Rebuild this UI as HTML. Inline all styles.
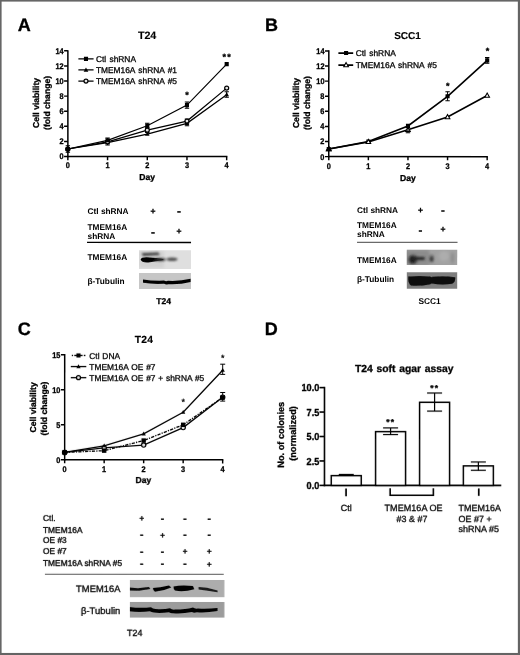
<!DOCTYPE html>
<html><head><meta charset="utf-8"><title>Figure</title>
<style>
html,body{margin:0;padding:0;background:#fff;}
body{width:520px;height:655px;overflow:hidden;}
svg{display:block;font-family:'Liberation Sans',sans-serif;fill:#000;text-rendering:geometricPrecision;}
</style></head><body>
<svg width="520" height="655" viewBox="0 0 520 655">
<defs>
<filter id="soft" x="0" y="0" width="520" height="655" filterUnits="userSpaceOnUse"><feGaussianBlur stdDeviation="0.38"/></filter>
<filter id="b1" x="-20%" y="-50%" width="140%" height="200%"><feGaussianBlur stdDeviation="0.7"/></filter>
<filter id="b2" x="-20%" y="-50%" width="140%" height="200%"><feGaussianBlur stdDeviation="1.1"/></filter>
<filter id="b3" x="-20%" y="-80%" width="140%" height="260%"><feGaussianBlur stdDeviation="1.6"/></filter>
<clipPath id="cA1"><rect x="139" y="250.3" width="52" height="18.7"/></clipPath>
<clipPath id="cB1"><rect x="406.8" y="249.7" width="50.4" height="15.3"/></clipPath>
<clipPath id="cB2"><rect x="406.8" y="272.2" width="50.4" height="16.4"/></clipPath>
<clipPath id="cC1"><rect x="130" y="580" width="94.5" height="17.2"/></clipPath>
<clipPath id="cC2"><rect x="130" y="602" width="94.5" height="15.6"/></clipPath>
</defs>
<rect x="0" y="0" width="520" height="655" fill="#fff"/>

<rect x="0" y="0" width="520" height="1.6" fill="#666"/>
<rect x="0" y="0" width="1.6" height="655" fill="#666"/>
<rect x="517.85" y="0" width="2.15" height="655" fill="#646464"/>
<rect x="0" y="652.95" width="520" height="2.05" fill="#646464"/>
<g filter="url(#soft)"><g transform="rotate(0.02 260 327)">
<text x="17.6" y="31.2" font-size="18" font-weight="bold" stroke="#000" stroke-width="0.3" text-anchor="start">A</text>
<text x="264.8" y="31" font-size="18" font-weight="bold" stroke="#000" stroke-width="0.3" text-anchor="start">B</text>
<text x="17.7" y="335.2" font-size="18" font-weight="bold" stroke="#000" stroke-width="0.3" text-anchor="start">C</text>
<text x="264.8" y="335" font-size="18" font-weight="bold" stroke="#000" stroke-width="0.3" text-anchor="start">D</text>
<g id="panelA">
<text x="147.0" y="39.5" font-size="10.7" font-weight="bold" stroke="#000" stroke-width="0.15" text-anchor="middle">T24</text>
<line x1="67.80" y1="50.20" x2="67.80" y2="157.30" stroke="#000" stroke-width="1.5"/>
<line x1="67.10" y1="156.60" x2="227.30" y2="156.60" stroke="#000" stroke-width="1.5"/>
<line x1="64.00" y1="156.60" x2="67.80" y2="156.60" stroke="#000" stroke-width="1.45"/>
<text transform="translate(63.5 159.54999999999998) scale(0.9 1)" font-size="8.2" font-weight="bold" stroke="#000" stroke-width="0.3" text-anchor="end">0</text>
<line x1="64.00" y1="141.50" x2="67.80" y2="141.50" stroke="#000" stroke-width="1.45"/>
<text transform="translate(63.5 144.45) scale(0.9 1)" font-size="8.2" font-weight="bold" stroke="#000" stroke-width="0.3" text-anchor="end">2</text>
<line x1="64.00" y1="126.40" x2="67.80" y2="126.40" stroke="#000" stroke-width="1.45"/>
<text transform="translate(63.5 129.35) scale(0.9 1)" font-size="8.2" font-weight="bold" stroke="#000" stroke-width="0.3" text-anchor="end">4</text>
<line x1="64.00" y1="111.30" x2="67.80" y2="111.30" stroke="#000" stroke-width="1.45"/>
<text transform="translate(63.5 114.25) scale(0.9 1)" font-size="8.2" font-weight="bold" stroke="#000" stroke-width="0.3" text-anchor="end">6</text>
<line x1="64.00" y1="96.20" x2="67.80" y2="96.20" stroke="#000" stroke-width="1.45"/>
<text transform="translate(63.5 99.14999999999999) scale(0.9 1)" font-size="8.2" font-weight="bold" stroke="#000" stroke-width="0.3" text-anchor="end">8</text>
<line x1="64.00" y1="81.10" x2="67.80" y2="81.10" stroke="#000" stroke-width="1.45"/>
<text transform="translate(63.5 84.05) scale(0.9 1)" font-size="8.2" font-weight="bold" stroke="#000" stroke-width="0.3" text-anchor="end">10</text>
<line x1="64.00" y1="66.00" x2="67.80" y2="66.00" stroke="#000" stroke-width="1.45"/>
<text transform="translate(63.5 68.95) scale(0.9 1)" font-size="8.2" font-weight="bold" stroke="#000" stroke-width="0.3" text-anchor="end">12</text>
<line x1="64.00" y1="50.90" x2="67.80" y2="50.90" stroke="#000" stroke-width="1.45"/>
<text transform="translate(63.5 53.849999999999994) scale(0.9 1)" font-size="8.2" font-weight="bold" stroke="#000" stroke-width="0.3" text-anchor="end">14</text>
<line x1="67.80" y1="156.60" x2="67.80" y2="160.20" stroke="#000" stroke-width="1.45"/>
<text transform="translate(67.8 168.5) scale(0.9 1)" font-size="8.2" font-weight="bold" stroke="#000" stroke-width="0.3" text-anchor="middle">0</text>
<line x1="107.50" y1="156.60" x2="107.50" y2="160.20" stroke="#000" stroke-width="1.45"/>
<text transform="translate(107.5 168.5) scale(0.9 1)" font-size="8.2" font-weight="bold" stroke="#000" stroke-width="0.3" text-anchor="middle">1</text>
<line x1="147.20" y1="156.60" x2="147.20" y2="160.20" stroke="#000" stroke-width="1.45"/>
<text transform="translate(147.2 168.5) scale(0.9 1)" font-size="8.2" font-weight="bold" stroke="#000" stroke-width="0.3" text-anchor="middle">2</text>
<line x1="186.90" y1="156.60" x2="186.90" y2="160.20" stroke="#000" stroke-width="1.45"/>
<text transform="translate(186.9 168.5) scale(0.9 1)" font-size="8.2" font-weight="bold" stroke="#000" stroke-width="0.3" text-anchor="middle">3</text>
<line x1="226.60" y1="156.60" x2="226.60" y2="160.20" stroke="#000" stroke-width="1.45"/>
<text transform="translate(226.60000000000002 168.5) scale(0.9 1)" font-size="8.2" font-weight="bold" stroke="#000" stroke-width="0.3" text-anchor="middle">4</text>
<text x="38.6" y="103" font-size="8.6" font-weight="bold" stroke="#000" stroke-width="0.3" text-anchor="middle" transform="rotate(-90 38.6 103)">Cell viability</text>
<text x="50.3" y="103" font-size="8.6" font-weight="bold" stroke="#000" stroke-width="0.3" text-anchor="middle" transform="rotate(-90 50.3 103)">(fold change)</text>
<text x="147.2" y="180.5" font-size="8.6" font-weight="bold" stroke="#000" stroke-width="0.3" text-anchor="middle">Day</text>
<polyline points="67.80,149.05 107.50,142.63 147.20,134.18 186.90,123.38 226.60,94.69" fill="none" stroke="#000" stroke-width="1.2"/>
<polyline points="67.80,149.05 107.50,141.88 147.20,130.17 186.90,121.11 226.60,88.12" fill="none" stroke="#000" stroke-width="1.2"/>
<polyline points="67.80,149.05 107.50,140.37 147.20,125.80 186.90,105.11 226.60,64.11" fill="none" stroke="#000" stroke-width="1.2"/>
<line x1="67.80" y1="145.75" x2="67.80" y2="152.35" stroke="#000" stroke-width="1"/>
<line x1="65.60" y1="145.75" x2="70.00" y2="145.75" stroke="#000" stroke-width="1"/>
<line x1="65.60" y1="152.35" x2="70.00" y2="152.35" stroke="#000" stroke-width="1"/>
<line x1="186.90" y1="101.91" x2="186.90" y2="108.31" stroke="#000" stroke-width="1"/>
<line x1="184.70" y1="101.91" x2="189.10" y2="101.91" stroke="#000" stroke-width="1"/>
<line x1="184.70" y1="108.31" x2="189.10" y2="108.31" stroke="#000" stroke-width="1"/>
<line x1="226.60" y1="91.69" x2="226.60" y2="97.19" stroke="#000" stroke-width="1"/>
<line x1="224.40" y1="91.69" x2="228.80" y2="91.69" stroke="#000" stroke-width="1"/>
<line x1="224.40" y1="97.19" x2="228.80" y2="97.19" stroke="#000" stroke-width="1"/>
<line x1="147.20" y1="127.77" x2="147.20" y2="132.57" stroke="#000" stroke-width="1"/>
<line x1="145.00" y1="127.77" x2="149.40" y2="127.77" stroke="#000" stroke-width="1"/>
<line x1="145.00" y1="132.57" x2="149.40" y2="132.57" stroke="#000" stroke-width="1"/>
<line x1="147.20" y1="123.20" x2="147.20" y2="128.40" stroke="#000" stroke-width="1"/>
<line x1="145.00" y1="123.20" x2="149.40" y2="123.20" stroke="#000" stroke-width="1"/>
<line x1="145.00" y1="128.40" x2="149.40" y2="128.40" stroke="#000" stroke-width="1"/>
<line x1="107.50" y1="137.97" x2="107.50" y2="142.77" stroke="#000" stroke-width="1"/>
<line x1="105.30" y1="137.97" x2="109.70" y2="137.97" stroke="#000" stroke-width="1"/>
<line x1="105.30" y1="142.77" x2="109.70" y2="142.77" stroke="#000" stroke-width="1"/>
<line x1="107.50" y1="140.43" x2="107.50" y2="145.03" stroke="#000" stroke-width="1"/>
<line x1="105.30" y1="140.43" x2="109.70" y2="140.43" stroke="#000" stroke-width="1"/>
<line x1="105.30" y1="145.03" x2="109.70" y2="145.03" stroke="#000" stroke-width="1"/>
<line x1="186.90" y1="118.91" x2="186.90" y2="123.31" stroke="#000" stroke-width="1"/>
<line x1="184.70" y1="118.91" x2="189.10" y2="118.91" stroke="#000" stroke-width="1"/>
<line x1="184.70" y1="123.31" x2="189.10" y2="123.31" stroke="#000" stroke-width="1"/>
<line x1="186.90" y1="121.38" x2="186.90" y2="125.78" stroke="#000" stroke-width="1"/>
<line x1="184.70" y1="121.38" x2="189.10" y2="121.38" stroke="#000" stroke-width="1"/>
<line x1="184.70" y1="125.78" x2="189.10" y2="125.78" stroke="#000" stroke-width="1"/>
<polygon points="67.80,146.57 65.50,150.71 70.10,150.71" fill="#000"/>
<polygon points="107.50,140.15 105.20,144.29 109.80,144.29" fill="#000"/>
<polygon points="147.20,131.69 144.90,135.83 149.50,135.83" fill="#000"/>
<polygon points="186.90,120.90 184.60,125.04 189.20,125.04" fill="#000"/>
<polygon points="226.60,92.21 224.30,96.35 228.90,96.35" fill="#000"/>
<circle cx="67.80" cy="149.05" r="2.0" fill="#e2e2e2" stroke="#000" stroke-width="1.2"/>
<circle cx="107.50" cy="141.88" r="2.0" fill="#e2e2e2" stroke="#000" stroke-width="1.2"/>
<circle cx="147.20" cy="130.17" r="2.0" fill="#e2e2e2" stroke="#000" stroke-width="1.2"/>
<circle cx="186.90" cy="121.11" r="2.0" fill="#e2e2e2" stroke="#000" stroke-width="1.2"/>
<circle cx="226.60" cy="88.12" r="2.0" fill="#e2e2e2" stroke="#000" stroke-width="1.2"/>
<rect x="65.75" y="147.00" width="4.1" height="4.1" fill="#000"/>
<rect x="105.45" y="138.32" width="4.1" height="4.1" fill="#000"/>
<rect x="145.15" y="123.75" width="4.1" height="4.1" fill="#000"/>
<rect x="184.85" y="103.06" width="4.1" height="4.1" fill="#000"/>
<rect x="224.55" y="62.06" width="4.1" height="4.1" fill="#000"/>
<circle cx="67.80" cy="149.05" r="2.0" fill="#000" stroke="#000" stroke-width="1.2"/>
<line x1="78.30" y1="58.90" x2="93.50" y2="58.90" stroke="#000" stroke-width="1.2"/>
<rect x="83.85" y="56.85" width="4.1" height="4.1" fill="#000"/>
<text x="95.8" y="61.9" font-size="8.4" stroke="#000" stroke-width="0.28" text-anchor="start" word-spacing="1">Ctl shRNA</text>
<line x1="78.30" y1="70.00" x2="93.50" y2="70.00" stroke="#000" stroke-width="1.2"/>
<polygon points="85.90,67.46 83.55,71.69 88.25,71.69" fill="#000"/>
<text x="95.8" y="73.0" font-size="8.4" stroke="#000" stroke-width="0.28" text-anchor="start" word-spacing="1">TMEM16A shRNA #1</text>
<line x1="78.30" y1="81.10" x2="93.50" y2="81.10" stroke="#000" stroke-width="1.2"/>
<circle cx="85.90" cy="81.10" r="2.0" fill="#e2e2e2" stroke="#000" stroke-width="1.2"/>
<text x="95.8" y="84.1" font-size="8.4" stroke="#000" stroke-width="0.28" text-anchor="start" word-spacing="1">TMEM16A shRNA #5</text>
<text x="186.9" y="97.6" font-size="9" font-weight="bold" stroke="#000" stroke-width="0.3" text-anchor="middle">*</text>
<text x="227.2" y="59.8" font-size="9" font-weight="bold" stroke="#000" stroke-width="0.3" text-anchor="middle" letter-spacing="1.2">**</text>
<text x="87.5" y="214.4" font-size="8.3" font-weight="bold" text-anchor="start">Ctl shRNA</text>
<text x="87.5" y="229.8" font-size="8.3" font-weight="bold" text-anchor="start">TMEM16A</text>
<text x="87.5" y="238.6" font-size="8.3" font-weight="bold" text-anchor="start">shRNA</text>
<text x="153" y="213.8" font-size="8.5" font-weight="bold" stroke="#000" stroke-width="0.3" text-anchor="middle">+</text>
<text x="179" y="215.1" font-size="12" font-weight="bold" stroke="#000" stroke-width="0.3" text-anchor="middle">-</text>
<text x="153" y="235.9" font-size="12" font-weight="bold" stroke="#000" stroke-width="0.3" text-anchor="middle">-</text>
<text x="179" y="234.2" font-size="8.5" font-weight="bold" stroke="#000" stroke-width="0.3" text-anchor="middle">+</text>
<line x1="87.00" y1="242.50" x2="191.00" y2="242.50" stroke="#000" stroke-width="1.3"/>
<text x="87.5" y="260.5" font-size="8.3" font-weight="bold" text-anchor="start">TMEM16A</text>
<text x="87.5" y="284.4" font-size="8.3" font-weight="bold" text-anchor="start">β-Tubulin</text>
<rect x="139" y="250.3" width="52" height="18.7" fill="#dfdfdf"/>
<g clip-path="url(#cA1)"><rect x="139" y="251" width="25" height="17" fill="#d2d2d2" filter="url(#b3)"/></g>
<g filter="url(#b1)">
<path d="M140.6,259.6 Q141.4,257 147,257.2 L156,258 L163,258.9 L163.6,260.1 L156,261.2 L150,262.3 Q141.6,263.2 140.6,259.6 Z" fill="#000"/>
</g>
<g filter="url(#b2)">
<path d="M141.6,253.2 L158,252.6 L160,255 L143,256 Z" fill="#3a3a3a"/>
<ellipse cx="172" cy="259.2" rx="5.5" ry="1.8" fill="#505050"/>
<ellipse cx="160" cy="259.6" rx="6" ry="1.6" fill="#333"/>
</g>
<rect x="139" y="273" width="52" height="16" fill="#c6c6c6"/>
<g filter="url(#b1)">
<path d="M143,279.4 Q152,281 164,280.6 Q166,281.8 168,280.8 Q180,281.4 190.6,278.8 L190.6,282 Q180,284.8 168,284.2 Q166,284.8 164,283.8 Q152,284.4 143,282.8 Z" fill="#000"/>
</g>
<text x="163.6" y="303.8" font-size="8.5" font-weight="bold" stroke="#000" stroke-width="0.3" text-anchor="middle">T24</text>
</g>
<g id="panelB">
<text x="407.4" y="38.7" font-size="10" font-weight="bold" stroke="#000" stroke-width="0.15" text-anchor="middle">SCC1</text>
<line x1="328.70" y1="50.20" x2="328.70" y2="157.30" stroke="#000" stroke-width="1.5"/>
<line x1="328.00" y1="156.60" x2="487.80" y2="156.60" stroke="#000" stroke-width="1.5"/>
<line x1="324.90" y1="156.60" x2="328.70" y2="156.60" stroke="#000" stroke-width="1.45"/>
<text transform="translate(324.4 159.54999999999998) scale(0.9 1)" font-size="8.2" font-weight="bold" stroke="#000" stroke-width="0.3" text-anchor="end">0</text>
<line x1="324.90" y1="141.50" x2="328.70" y2="141.50" stroke="#000" stroke-width="1.45"/>
<text transform="translate(324.4 144.45) scale(0.9 1)" font-size="8.2" font-weight="bold" stroke="#000" stroke-width="0.3" text-anchor="end">2</text>
<line x1="324.90" y1="126.40" x2="328.70" y2="126.40" stroke="#000" stroke-width="1.45"/>
<text transform="translate(324.4 129.35) scale(0.9 1)" font-size="8.2" font-weight="bold" stroke="#000" stroke-width="0.3" text-anchor="end">4</text>
<line x1="324.90" y1="111.30" x2="328.70" y2="111.30" stroke="#000" stroke-width="1.45"/>
<text transform="translate(324.4 114.25) scale(0.9 1)" font-size="8.2" font-weight="bold" stroke="#000" stroke-width="0.3" text-anchor="end">6</text>
<line x1="324.90" y1="96.20" x2="328.70" y2="96.20" stroke="#000" stroke-width="1.45"/>
<text transform="translate(324.4 99.14999999999999) scale(0.9 1)" font-size="8.2" font-weight="bold" stroke="#000" stroke-width="0.3" text-anchor="end">8</text>
<line x1="324.90" y1="81.10" x2="328.70" y2="81.10" stroke="#000" stroke-width="1.45"/>
<text transform="translate(324.4 84.05) scale(0.9 1)" font-size="8.2" font-weight="bold" stroke="#000" stroke-width="0.3" text-anchor="end">10</text>
<line x1="324.90" y1="66.00" x2="328.70" y2="66.00" stroke="#000" stroke-width="1.45"/>
<text transform="translate(324.4 68.95) scale(0.9 1)" font-size="8.2" font-weight="bold" stroke="#000" stroke-width="0.3" text-anchor="end">12</text>
<line x1="324.90" y1="50.90" x2="328.70" y2="50.90" stroke="#000" stroke-width="1.45"/>
<text transform="translate(324.4 53.849999999999994) scale(0.9 1)" font-size="8.2" font-weight="bold" stroke="#000" stroke-width="0.3" text-anchor="end">14</text>
<line x1="328.70" y1="156.60" x2="328.70" y2="160.20" stroke="#000" stroke-width="1.45"/>
<text transform="translate(328.7 168.5) scale(0.9 1)" font-size="8.2" font-weight="bold" stroke="#000" stroke-width="0.3" text-anchor="middle">0</text>
<line x1="368.30" y1="156.60" x2="368.30" y2="160.20" stroke="#000" stroke-width="1.45"/>
<text transform="translate(368.3 168.5) scale(0.9 1)" font-size="8.2" font-weight="bold" stroke="#000" stroke-width="0.3" text-anchor="middle">1</text>
<line x1="407.90" y1="156.60" x2="407.90" y2="160.20" stroke="#000" stroke-width="1.45"/>
<text transform="translate(407.9 168.5) scale(0.9 1)" font-size="8.2" font-weight="bold" stroke="#000" stroke-width="0.3" text-anchor="middle">2</text>
<line x1="447.50" y1="156.60" x2="447.50" y2="160.20" stroke="#000" stroke-width="1.45"/>
<text transform="translate(447.5 168.5) scale(0.9 1)" font-size="8.2" font-weight="bold" stroke="#000" stroke-width="0.3" text-anchor="middle">3</text>
<line x1="487.10" y1="156.60" x2="487.10" y2="160.20" stroke="#000" stroke-width="1.45"/>
<text transform="translate(487.1 168.5) scale(0.9 1)" font-size="8.2" font-weight="bold" stroke="#000" stroke-width="0.3" text-anchor="middle">4</text>
<text x="298.6" y="103" font-size="8.6" font-weight="bold" stroke="#000" stroke-width="0.3" text-anchor="middle" transform="rotate(-90 298.6 103)">Cell viability</text>
<text x="310.3" y="103" font-size="8.6" font-weight="bold" stroke="#000" stroke-width="0.3" text-anchor="middle" transform="rotate(-90 310.3 103)">(fold change)</text>
<text x="407.9" y="180.5" font-size="8.6" font-weight="bold" stroke="#000" stroke-width="0.3" text-anchor="middle">Day</text>
<polyline points="328.70,149.05 368.30,141.88 407.90,129.65 447.50,116.96 487.10,95.44" fill="none" stroke="#000" stroke-width="1.6"/>
<polyline points="328.70,149.05 368.30,141.50 407.90,125.87 447.50,96.20 487.10,60.34" fill="none" stroke="#000" stroke-width="1.6"/>
<line x1="447.50" y1="91.70" x2="447.50" y2="100.70" stroke="#000" stroke-width="1"/>
<line x1="445.30" y1="91.70" x2="449.70" y2="91.70" stroke="#000" stroke-width="1"/>
<line x1="445.30" y1="100.70" x2="449.70" y2="100.70" stroke="#000" stroke-width="1"/>
<line x1="487.10" y1="57.54" x2="487.10" y2="63.14" stroke="#000" stroke-width="1"/>
<line x1="484.90" y1="57.54" x2="489.30" y2="57.54" stroke="#000" stroke-width="1"/>
<line x1="484.90" y1="63.14" x2="489.30" y2="63.14" stroke="#000" stroke-width="1"/>
<rect x="326.65" y="147.00" width="4.1" height="4.1" fill="#000"/>
<rect x="366.25" y="139.45" width="4.1" height="4.1" fill="#000"/>
<rect x="405.85" y="123.82" width="4.1" height="4.1" fill="#000"/>
<rect x="445.45" y="94.15" width="4.1" height="4.1" fill="#000"/>
<rect x="485.05" y="58.29" width="4.1" height="4.1" fill="#000"/>
<polygon points="328.70,146.57 326.40,150.71 331.00,150.71" fill="#fff" stroke="#000" stroke-width="1.1"/>
<polygon points="368.30,139.39 366.00,143.53 370.60,143.53" fill="#fff" stroke="#000" stroke-width="1.1"/>
<polygon points="407.90,127.16 405.60,131.30 410.20,131.30" fill="#fff" stroke="#000" stroke-width="1.1"/>
<polygon points="447.50,114.48 445.20,118.62 449.80,118.62" fill="#fff" stroke="#000" stroke-width="1.1"/>
<polygon points="487.10,92.96 484.80,97.10 489.40,97.10" fill="#fff" stroke="#000" stroke-width="1.1"/>
<line x1="407.90" y1="127.65" x2="407.90" y2="132.65" stroke="#000" stroke-width="1"/>
<line x1="405.70" y1="127.65" x2="410.10" y2="127.65" stroke="#000" stroke-width="1"/>
<line x1="405.70" y1="132.65" x2="410.10" y2="132.65" stroke="#000" stroke-width="1"/>
<polygon points="328.70,146.46 326.30,150.78 331.10,150.78" fill="#000" stroke="#000" stroke-width="1"/>
<line x1="338.30" y1="53.00" x2="353.10" y2="53.00" stroke="#000" stroke-width="1.8"/>
<rect x="343.95" y="50.95" width="4.1" height="4.1" fill="#000"/>
<text x="355.6" y="56.0" font-size="8.4" stroke="#000" stroke-width="0.28" text-anchor="start" word-spacing="1">Ctl shRNA</text>
<line x1="338.30" y1="65.00" x2="353.10" y2="65.00" stroke="#000" stroke-width="1.8"/>
<polygon points="346.00,62.52 343.70,66.66 348.30,66.66" fill="#fff" stroke="#000" stroke-width="1.1"/>
<text x="355.6" y="68.0" font-size="8.4" stroke="#000" stroke-width="0.28" text-anchor="start" word-spacing="1">TMEM16A shRNA #5</text>
<text x="447.7" y="89" font-size="9" font-weight="bold" stroke="#000" stroke-width="0.3" text-anchor="middle">*</text>
<text x="487.3" y="54" font-size="9" font-weight="bold" stroke="#000" stroke-width="0.3" text-anchor="middle">*</text>
<text x="357" y="212.8" font-size="8.3" font-weight="bold" text-anchor="start">Ctl shRNA</text>
<text x="357" y="227.7" font-size="8.3" font-weight="bold" text-anchor="start">TMEM16A</text>
<text x="357" y="236.8" font-size="8.3" font-weight="bold" text-anchor="start">shRNA</text>
<text x="420.4" y="212.6" font-size="8.5" font-weight="bold" stroke="#000" stroke-width="0.3" text-anchor="middle">+</text>
<text x="443" y="214.1" font-size="11.5" font-weight="bold" stroke="#000" stroke-width="0.3" text-anchor="middle">-</text>
<text x="420.4" y="233.7" font-size="11.5" font-weight="bold" stroke="#000" stroke-width="0.3" text-anchor="middle">-</text>
<text x="443" y="232.3" font-size="8.5" font-weight="bold" stroke="#000" stroke-width="0.3" text-anchor="middle">+</text>
<line x1="357.00" y1="242.40" x2="457.50" y2="242.40" stroke="#6a6a6a" stroke-width="1.3"/>
<text x="357" y="262.8" font-size="8.3" font-weight="bold" text-anchor="start">TMEM16A</text>
<text x="357" y="281.8" font-size="8.3" font-weight="bold" text-anchor="start">β-Tubulin</text>
<rect x="406.8" y="249.7" width="50.4" height="15.3" fill="#a2a2a2"/>
<g clip-path="url(#cB1)">
<g filter="url(#b3)">
<rect x="405" y="250" width="24" height="15" fill="#8c8c8c"/>
<ellipse cx="413" cy="259.6" rx="5" ry="5" fill="#555"/>
<ellipse cx="431.5" cy="258.6" rx="2.2" ry="4" fill="#6a6a6a"/>
<ellipse cx="452.5" cy="258" rx="1.6" ry="6" fill="#8a8a8a"/>
<ellipse cx="444" cy="256" rx="5" ry="5" fill="#adadad"/>
</g>
<g filter="url(#b2)">
<ellipse cx="412.6" cy="259.4" rx="3" ry="3.4" fill="#1a1a1a"/>
<rect x="412" y="257" width="12.6" height="2.8" fill="#222"/>
<ellipse cx="431.6" cy="259" rx="1.5" ry="2.4" fill="#3a3a3a"/>
</g>
</g>
<rect x="406.8" y="272.2" width="50.4" height="16.4" fill="#7e7e7e"/>
<g clip-path="url(#cB2)"><g filter="url(#b1)">
<path d="M408.2,276.6 Q420,275.6 430.4,276.6 Q431.2,277.8 432,276.8 Q444,275.6 455.2,277.2 Q455.8,282 452,283.8 Q442,285.4 432,283.6 Q431.2,283 430.4,284.2 Q420,286.4 411,285.6 Q407.8,283.6 408.2,276.6 Z" fill="#0c0c0c"/>
</g></g>
<text x="429.6" y="304.2" font-size="8.4" font-weight="bold" text-anchor="middle">SCC1</text>
</g>
<g id="panelC">
<text x="143.9" y="343.2" font-size="10.3" font-weight="bold" stroke="#000" stroke-width="0.15" text-anchor="middle" letter-spacing="0.25">T24</text>
<line x1="64.70" y1="354.10" x2="64.70" y2="460.50" stroke="#000" stroke-width="1.45"/>
<line x1="64.00" y1="459.80" x2="223.40" y2="459.80" stroke="#000" stroke-width="1.45"/>
<line x1="60.90" y1="459.80" x2="64.70" y2="459.80" stroke="#000" stroke-width="1.4"/>
<text transform="translate(60.400000000000006 462.75) scale(0.9 1)" font-size="8.2" font-weight="bold" stroke="#000" stroke-width="0.3" text-anchor="end">0</text>
<line x1="60.90" y1="424.80" x2="64.70" y2="424.80" stroke="#000" stroke-width="1.4"/>
<text transform="translate(60.400000000000006 427.75) scale(0.9 1)" font-size="8.2" font-weight="bold" stroke="#000" stroke-width="0.3" text-anchor="end">5</text>
<line x1="60.90" y1="389.80" x2="64.70" y2="389.80" stroke="#000" stroke-width="1.4"/>
<text transform="translate(60.400000000000006 392.75) scale(0.9 1)" font-size="8.2" font-weight="bold" stroke="#000" stroke-width="0.3" text-anchor="end">10</text>
<line x1="60.90" y1="354.80" x2="64.70" y2="354.80" stroke="#000" stroke-width="1.4"/>
<text transform="translate(60.400000000000006 357.75) scale(0.9 1)" font-size="8.2" font-weight="bold" stroke="#000" stroke-width="0.3" text-anchor="end">15</text>
<line x1="64.70" y1="459.80" x2="64.70" y2="463.40" stroke="#000" stroke-width="1.4"/>
<text transform="translate(64.7 471.7) scale(0.9 1)" font-size="8.2" font-weight="bold" stroke="#000" stroke-width="0.3" text-anchor="middle">0</text>
<line x1="104.20" y1="459.80" x2="104.20" y2="463.40" stroke="#000" stroke-width="1.4"/>
<text transform="translate(104.2 471.7) scale(0.9 1)" font-size="8.2" font-weight="bold" stroke="#000" stroke-width="0.3" text-anchor="middle">1</text>
<line x1="143.70" y1="459.80" x2="143.70" y2="463.40" stroke="#000" stroke-width="1.4"/>
<text transform="translate(143.7 471.7) scale(0.9 1)" font-size="8.2" font-weight="bold" stroke="#000" stroke-width="0.3" text-anchor="middle">2</text>
<line x1="183.20" y1="459.80" x2="183.20" y2="463.40" stroke="#000" stroke-width="1.4"/>
<text transform="translate(183.2 471.7) scale(0.9 1)" font-size="8.2" font-weight="bold" stroke="#000" stroke-width="0.3" text-anchor="middle">3</text>
<line x1="222.70" y1="459.80" x2="222.70" y2="463.40" stroke="#000" stroke-width="1.4"/>
<text transform="translate(222.7 471.7) scale(0.9 1)" font-size="8.2" font-weight="bold" stroke="#000" stroke-width="0.3" text-anchor="middle">4</text>
<text x="36.2" y="407.4" font-size="8.6" font-weight="bold" stroke="#000" stroke-width="0.3" text-anchor="middle" transform="rotate(-90 36.2 407.4)">Cell viability</text>
<text x="47.0" y="408.6" font-size="8.6" font-weight="bold" stroke="#000" stroke-width="0.3" text-anchor="middle" transform="rotate(-90 47.0 408.6)">(fold change)</text>
<text x="143.5" y="483" font-size="8.6" font-weight="bold" stroke="#000" stroke-width="0.3" text-anchor="middle">Day</text>
<polyline points="64.70,452.45 104.20,447.90 143.70,445.10 183.20,427.60 222.70,397.15" fill="none" stroke="#000" stroke-width="1.3"/>
<polyline points="64.70,452.45 104.20,445.80 143.70,433.90 183.20,412.20 222.70,370.20" fill="none" stroke="#000" stroke-width="1.3"/>
<polyline points="64.70,452.45 104.20,450.70 143.70,440.55 183.20,424.80 222.70,397.50" fill="none" stroke="#000" stroke-width="1.35" stroke-dasharray="3.2,1.2,1.2,1.2"/>
<line x1="222.70" y1="364.20" x2="222.70" y2="374.40" stroke="#000" stroke-width="1"/>
<line x1="220.20" y1="364.20" x2="225.20" y2="364.20" stroke="#000" stroke-width="1"/>
<line x1="220.20" y1="374.40" x2="225.20" y2="374.40" stroke="#000" stroke-width="1"/>
<line x1="222.70" y1="392.50" x2="222.70" y2="401.10" stroke="#000" stroke-width="1"/>
<line x1="220.20" y1="392.50" x2="225.20" y2="392.50" stroke="#000" stroke-width="1"/>
<line x1="220.20" y1="401.10" x2="225.20" y2="401.10" stroke="#000" stroke-width="1"/>
<circle cx="64.70" cy="452.45" r="2.15" fill="#e2e2e2" stroke="#000" stroke-width="1.2"/>
<circle cx="104.20" cy="447.90" r="2.15" fill="#e2e2e2" stroke="#000" stroke-width="1.2"/>
<circle cx="143.70" cy="445.10" r="2.15" fill="#e2e2e2" stroke="#000" stroke-width="1.2"/>
<circle cx="183.20" cy="427.60" r="2.15" fill="#e2e2e2" stroke="#000" stroke-width="1.2"/>
<circle cx="222.70" cy="397.15" r="2.15" fill="#e2e2e2" stroke="#000" stroke-width="1.2"/>
<polygon points="64.70,450.13 62.55,454.00 66.85,454.00" fill="#000"/>
<polygon points="104.20,443.48 102.05,447.35 106.35,447.35" fill="#000"/>
<polygon points="143.70,431.58 141.55,435.45 145.85,435.45" fill="#000"/>
<polygon points="183.20,409.88 181.05,413.75 185.35,413.75" fill="#000"/>
<polygon points="222.70,367.88 220.55,371.75 224.85,371.75" fill="#000"/>
<rect x="62.50" y="450.25" width="4.4" height="4.4" fill="#000"/>
<rect x="102.00" y="448.50" width="4.4" height="4.4" fill="#000"/>
<rect x="141.50" y="438.35" width="4.4" height="4.4" fill="#000"/>
<rect x="181.00" y="422.60" width="4.4" height="4.4" fill="#000"/>
<rect x="220.50" y="395.30" width="4.4" height="4.4" fill="#000"/>
<circle cx="64.70" cy="452.45" r="2.2" fill="#000" stroke="#000" stroke-width="1.2"/>
<line x1="71.80" y1="355.50" x2="73.10" y2="355.50" stroke="#000" stroke-width="1.35"/>
<line x1="74.30" y1="355.50" x2="82.60" y2="355.50" stroke="#000" stroke-width="1.35"/>
<line x1="83.80" y1="355.50" x2="85.40" y2="355.50" stroke="#000" stroke-width="1.35"/>
<rect x="76.45" y="353.45" width="4.1" height="4.1" fill="#000"/>
<text x="89.3" y="358.5" font-size="8.4" stroke="#000" stroke-width="0.28" text-anchor="start" word-spacing="0.5">Ctl DNA</text>
<line x1="70.80" y1="366.60" x2="86.30" y2="366.60" stroke="#000" stroke-width="1.3"/>
<polygon points="78.50,364.28 76.35,368.15 80.65,368.15" fill="#000"/>
<text x="89.3" y="369.6" font-size="8.4" stroke="#000" stroke-width="0.28" text-anchor="start" word-spacing="0.5">TMEM16A OE #7</text>
<line x1="70.80" y1="377.70" x2="86.30" y2="377.70" stroke="#000" stroke-width="1.3"/>
<circle cx="78.50" cy="377.70" r="2.0" fill="#e2e2e2" stroke="#000" stroke-width="1.2"/>
<text x="89.3" y="380.7" font-size="8.4" stroke="#000" stroke-width="0.28" text-anchor="start" word-spacing="0.5">TMEM16A OE #7 + shRNA #5</text>
<text x="183.3" y="405" font-size="9" stroke="#000" stroke-width="0.28" text-anchor="middle">*</text>
<text x="222.8" y="361" font-size="9" stroke="#000" stroke-width="0.28" text-anchor="middle">*</text>
<text x="43" y="521.1" font-size="8.4" stroke="#000" stroke-width="0.32">Ctl.</text>
<text x="43" y="533.3" font-size="8.4" stroke="#000" stroke-width="0.32">TMEM16A</text>
<text x="43" y="543" font-size="8.4" stroke="#000" stroke-width="0.32">OE #3</text>
<text x="43" y="554.2" font-size="8.4" stroke="#000" stroke-width="0.32">OE #7</text>
<text x="43" y="566.1" font-size="8.4" stroke="#000" stroke-width="0.32">TMEM16A shRNA #5</text>
<text x="141.8" y="521.3" font-size="8" font-weight="bold" stroke="#000" stroke-width="0.3" text-anchor="middle">+</text>
<text x="162.5" y="521.8" font-size="10.5" font-weight="bold" stroke="#000" stroke-width="0.3" text-anchor="middle">-</text>
<text x="185" y="521.8" font-size="10.5" font-weight="bold" stroke="#000" stroke-width="0.3" text-anchor="middle">-</text>
<text x="209.3" y="521.8" font-size="10.5" font-weight="bold" stroke="#000" stroke-width="0.3" text-anchor="middle">-</text>
<text x="141.8" y="538.3" font-size="10.5" font-weight="bold" stroke="#000" stroke-width="0.3" text-anchor="middle">-</text>
<text x="162.5" y="537.8" font-size="8" font-weight="bold" stroke="#000" stroke-width="0.3" text-anchor="middle">+</text>
<text x="185" y="538.3" font-size="10.5" font-weight="bold" stroke="#000" stroke-width="0.3" text-anchor="middle">-</text>
<text x="209.3" y="538.3" font-size="10.5" font-weight="bold" stroke="#000" stroke-width="0.3" text-anchor="middle">-</text>
<text x="141.8" y="554.5999999999999" font-size="10.5" font-weight="bold" stroke="#000" stroke-width="0.3" text-anchor="middle">-</text>
<text x="162.5" y="554.5999999999999" font-size="10.5" font-weight="bold" stroke="#000" stroke-width="0.3" text-anchor="middle">-</text>
<text x="185" y="554.0999999999999" font-size="8" font-weight="bold" stroke="#000" stroke-width="0.3" text-anchor="middle">+</text>
<text x="209.3" y="554.0999999999999" font-size="8" font-weight="bold" stroke="#000" stroke-width="0.3" text-anchor="middle">+</text>
<text x="141.8" y="567.0999999999999" font-size="10.5" font-weight="bold" stroke="#000" stroke-width="0.3" text-anchor="middle">-</text>
<text x="162.5" y="567.0999999999999" font-size="10.5" font-weight="bold" stroke="#000" stroke-width="0.3" text-anchor="middle">-</text>
<text x="185" y="567.0999999999999" font-size="10.5" font-weight="bold" stroke="#000" stroke-width="0.3" text-anchor="middle">-</text>
<text x="209.3" y="566.5999999999999" font-size="8" font-weight="bold" stroke="#000" stroke-width="0.3" text-anchor="middle">+</text>
<line x1="45.00" y1="574.30" x2="223.80" y2="574.30" stroke="#777" stroke-width="1.3"/>
<text x="120.4" y="592" font-size="9.4" text-anchor="end" stroke="#000" stroke-width="0.3">TMEM16A</text>
<text x="120.4" y="614" font-size="9.5" text-anchor="end" stroke="#000" stroke-width="0.3">β-Tubulin</text>
<rect x="130" y="580" width="94.5" height="17.2" fill="#adadad"/>
<g clip-path="url(#cC1)"><g filter="url(#b1)">
<path d="M129,587.4 L138,588.2 L149,587 L150.4,589 L139,590.8 L129,590.4 Z" fill="#0a0a0a"/>
<path d="M153,588 Q160,587.6 169,585.4 L171.4,587.6 Q164,591 155,591.8 Q153,590.6 153,588 Z" fill="#050505"/>
<path d="M173.6,586.4 Q182,584.6 193,586 L194.4,589.2 Q184,592.2 175,590.6 Q173.4,589 173.6,586.4 Z" fill="#000"/>
<path d="M198.6,587 L207,587.8 L217.6,590.4 L217.6,592.2 L206,590.6 L198.6,589.4 Z" fill="#1c1c1c"/>
</g></g>
<rect x="130" y="602" width="94.5" height="15.6" fill="#9c9c9c"/>
<g clip-path="url(#cC2)"><g filter="url(#b1)">
<path d="M129,607 Q142,608.6 151,607.2 Q153,609.2 156,609 Q164,609.6 170,608.2 Q172,610 175,609.6 Q186,609.6 193,607.6 Q195,609.2 198,608.6 Q208,609.2 217.6,608 L217.6,611 Q206,613 197,612.2 Q194,613.2 192,612 Q182,614 173,613.2 Q171,613.6 169,612.2 Q160,613.6 154,612.6 Q151,612.2 150,611.2 Q140,612.6 129,611.2 Z" fill="#050505"/>
</g></g>
<text x="134.8" y="636.4" font-size="9" stroke="#000" stroke-width="0.28" text-anchor="middle">T24</text>
</g>
<g id="panelD">
<text x="355" y="371.6" font-size="10.35" font-weight="bold" stroke="#000" stroke-width="0.3" text-anchor="start" word-spacing="0.8">T24 soft agar assay</text>
<line x1="324.50" y1="386.80" x2="324.50" y2="486.20" stroke="#000" stroke-width="1.6"/>
<line x1="323.70" y1="485.40" x2="501.30" y2="485.40" stroke="#000" stroke-width="1.6"/>
<line x1="319.50" y1="485.40" x2="324.50" y2="485.40" stroke="#000" stroke-width="1.6"/>
<text transform="translate(319.3 489.0) scale(0.9 1)" font-size="10.2" font-weight="bold" stroke="#000" stroke-width="0.3" text-anchor="end">0.0</text>
<line x1="319.50" y1="460.95" x2="324.50" y2="460.95" stroke="#000" stroke-width="1.6"/>
<text transform="translate(319.3 464.55) scale(0.9 1)" font-size="10.2" font-weight="bold" stroke="#000" stroke-width="0.3" text-anchor="end">2.5</text>
<line x1="319.50" y1="436.50" x2="324.50" y2="436.50" stroke="#000" stroke-width="1.6"/>
<text transform="translate(319.3 440.1) scale(0.9 1)" font-size="10.2" font-weight="bold" stroke="#000" stroke-width="0.3" text-anchor="end">5.0</text>
<line x1="319.50" y1="412.05" x2="324.50" y2="412.05" stroke="#000" stroke-width="1.6"/>
<text transform="translate(319.3 415.65) scale(0.9 1)" font-size="10.2" font-weight="bold" stroke="#000" stroke-width="0.3" text-anchor="end">7.5</text>
<line x1="319.50" y1="387.60" x2="324.50" y2="387.60" stroke="#000" stroke-width="1.6"/>
<text transform="translate(319.3 391.2) scale(0.9 1)" font-size="10.2" font-weight="bold" stroke="#000" stroke-width="0.3" text-anchor="end">10.0</text>
<text x="284.5" y="434.7" font-size="9.2" font-weight="bold" stroke="#000" stroke-width="0.3" text-anchor="middle" transform="rotate(-90 284.5 434.7)">No. of colonies</text>
<text x="295.8" y="433.5" font-size="9.2" font-weight="bold" stroke="#000" stroke-width="0.3" text-anchor="middle" transform="rotate(-90 295.8 433.5)">(normalized)</text>
<rect x="331.30" y="475.62" width="30" height="9.78" fill="#fff" stroke="#000" stroke-width="1.5"/>
<line x1="346.30" y1="474.45" x2="346.30" y2="475.62" stroke="#000" stroke-width="1.2"/>
<line x1="338.80" y1="474.45" x2="353.80" y2="474.45" stroke="#000" stroke-width="1.2"/>
<rect x="375.60" y="431.61" width="30" height="53.79" fill="#fff" stroke="#000" stroke-width="1.5"/>
<line x1="390.60" y1="427.89" x2="390.60" y2="434.54" stroke="#000" stroke-width="1.2"/>
<line x1="383.10" y1="427.89" x2="398.10" y2="427.89" stroke="#000" stroke-width="1.2"/>
<line x1="383.10" y1="434.54" x2="398.10" y2="434.54" stroke="#000" stroke-width="1.2"/>
<rect x="419.60" y="402.27" width="30" height="83.13" fill="#fff" stroke="#000" stroke-width="1.5"/>
<line x1="434.60" y1="392.98" x2="434.60" y2="411.07" stroke="#000" stroke-width="1.2"/>
<line x1="427.10" y1="392.98" x2="442.10" y2="392.98" stroke="#000" stroke-width="1.2"/>
<line x1="427.10" y1="411.07" x2="442.10" y2="411.07" stroke="#000" stroke-width="1.2"/>
<rect x="463.40" y="465.84" width="30" height="19.56" fill="#fff" stroke="#000" stroke-width="1.5"/>
<line x1="478.40" y1="461.93" x2="478.40" y2="470.24" stroke="#000" stroke-width="1.2"/>
<line x1="470.90" y1="461.93" x2="485.90" y2="461.93" stroke="#000" stroke-width="1.2"/>
<line x1="470.90" y1="470.24" x2="485.90" y2="470.24" stroke="#000" stroke-width="1.2"/>
<line x1="346.10" y1="488.40" x2="346.10" y2="496.30" stroke="#000" stroke-width="1.7"/>
<line x1="478.80" y1="488.40" x2="478.80" y2="495.80" stroke="#000" stroke-width="1.7"/>
<polyline points="390.2,488.3 390.2,495.2 433.4,495.2 433.4,488.3" fill="none" stroke="#000" stroke-width="1.6"/>
<text x="390.8" y="424.9" font-size="8.6" font-weight="bold" stroke="#000" stroke-width="0.3" text-anchor="middle" letter-spacing="1.1">**</text>
<text x="434.8" y="391.1" font-size="8.6" font-weight="bold" stroke="#000" stroke-width="0.3" text-anchor="middle" letter-spacing="1.1">**</text>
<text x="346.2" y="510.5" font-size="9" stroke="#000" stroke-width="0.28" text-anchor="middle">Ctl</text>
<text x="413.6" y="510.5" font-size="9.1" stroke="#000" stroke-width="0.28" text-anchor="middle">TMEM16A OE</text>
<text x="412" y="521.6" font-size="9" stroke="#000" stroke-width="0.28" text-anchor="middle">#3 &amp; #7</text>
<text x="458.6" y="510.5" font-size="9" stroke="#000" stroke-width="0.28" text-anchor="start">TMEM16A</text>
<text x="458.6" y="521.6" font-size="9" stroke="#000" stroke-width="0.28" text-anchor="start">OE #7 +</text>
<text x="458.6" y="532.2" font-size="9" stroke="#000" stroke-width="0.28" text-anchor="start">shRNA #5</text>
</g>
</g></g>
</svg>
</body></html>
